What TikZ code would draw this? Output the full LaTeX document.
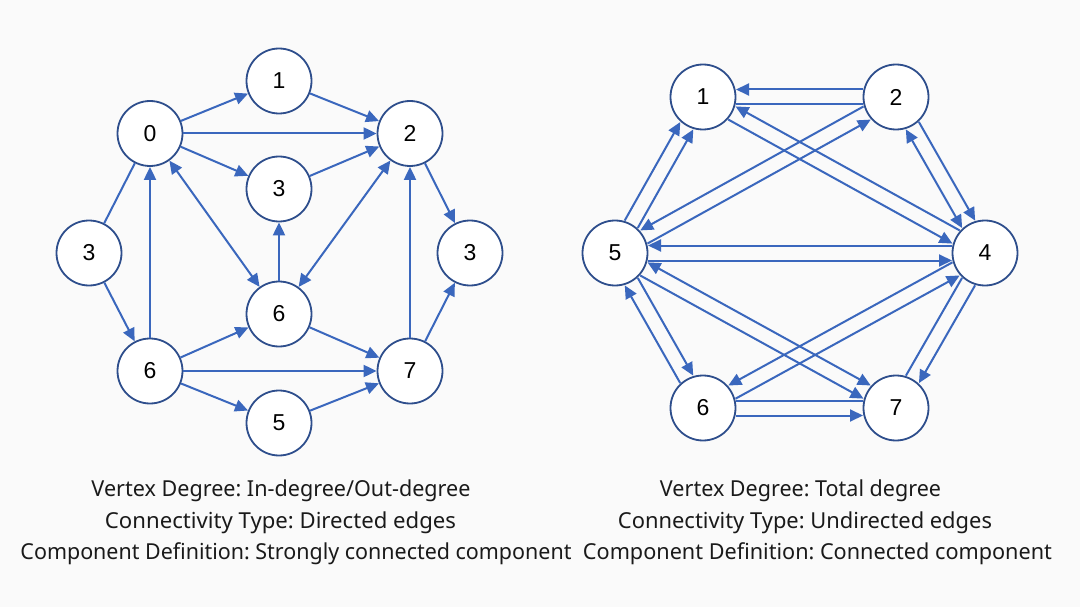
\documentclass[tikz,border=0pt]{standalone}
\usepackage{graphicx}
\usepackage{fontspec}
\setmainfont{Noto Sans}
\newfontfamily\numfont{Liberation Sans}
\usetikzlibrary{arrows.meta,calc}
\definecolor{edgeblue}{HTML}{3A67BD}
\definecolor{ringblue}{HTML}{2E4E8C}
\definecolor{bgcol}{HTML}{FAFAFA}
\definecolor{txtcol}{HTML}{1A1A1A}
\newcommand\sideL[3]{\draw[twin,#1] ($(#2)!7.5pt!90:(#3)$) -- ($(#3)!7.5pt!-90:(#2)$);}
\newcommand\sideR[3]{\draw[twin,#1] ($(#2)!7.5pt!-90:(#3)$) -- ($(#3)!7.5pt!90:(#2)$);}
\frenchspacing
\begin{document}
\begin{tikzpicture}[x=1pt,y=-1pt,
  vtx/.style={circle,draw=ringblue,line width=1.8pt,fill=white,minimum size=65pt,inner sep=0pt,font=\numfont\fontsize{23}{23}\selectfont},
  lnk/.style={draw=edgeblue,line width=2pt},
  twin/.style={lnk,shorten <=33pt,shorten >=33pt},
  >={Triangle[length=13pt,width=12pt]},
  captxt/.style={anchor=base,inner sep=0pt,font=\fontsize{22}{22}\selectfont,text=txtcol}]
\useasboundingbox (0,0) rectangle (1080,607);
\fill[bgcol] (0,0) rectangle (1080,607);

% ---------- left graph ----------
\node[vtx] (a0) at (150,133.5) {0};
\node[vtx] (a1) at (279,81) {1};
\node[vtx] (a2) at (410,133.5) {2};
\node[vtx] (a3m) at (279,189) {3};
\node[vtx] (a3l) at (89,253) {3};
\node[vtx] (a3r) at (470,253) {3};
\node[vtx] (a6m) at (279,314) {6};
\node[vtx] (a6l) at (150,371) {6};
\node[vtx] (a7) at (410,371) {7};
\node[vtx] (a5) at (279,423) {5};

\draw[lnk,->] (a0) -- (a1);
\draw[lnk,->] (a1) -- (a2);
\draw[lnk,->] (a0) -- (a2);
\draw[lnk,->] (a0) -- (a3m);
\draw[lnk,->] (a3m) -- (a2);
\draw[lnk] (a3l) -- (a0);
\draw[lnk,->] (a3l) -- (a6l);
\draw[lnk,->] (a6l) -- (a0);
\draw[lnk,<->] (a0) -- (a6m);
\draw[lnk,->] (a6m) -- (a3m);
\draw[lnk,<->] (a2) -- (a6m);
\draw[lnk,->] (a7) -- (a2);
\draw[lnk,->] (a2) -- (a3r);
\draw[lnk,->] (a7) -- (a3r);
\draw[lnk,->] (a6l) -- (a6m);
\draw[lnk,->] (a6l) -- (a7);
\draw[lnk,->] (a6l) -- (a5);
\draw[lnk,->] (a5) -- (a7);
\draw[lnk,->] (a6m) -- (a7);

% ---------- right graph ----------
\node[vtx] (b1) at (703,97) {1};
\node[vtx] (b2) at (896,97) {2};
\node[vtx] (b5) at (615,253) {5};
\node[vtx] (b4) at (985,253) {4};
\node[vtx] (b6) at (703,408) {6};
\node[vtx] (b7) at (896,408) {7};

\sideL{<-}{b1}{b2}
\sideR{}{b1}{b2}
\sideL{<-}{b5}{b4}
\sideR{->}{b5}{b4}
\sideL{}{b6}{b7}
\sideR{->}{b6}{b7}
\sideL{->}{b5}{b1}
\sideR{->}{b5}{b1}
\sideL{->}{b2}{b4}
\sideR{<->}{b2}{b4}
\sideL{<-}{b1}{b4}
\sideR{->}{b1}{b4}
\sideL{<-}{b5}{b2}
\sideR{->}{b5}{b2}
\sideL{->}{b5}{b6}
\sideR{<-}{b5}{b6}
\sideL{<->}{b5}{b7}
\sideR{->}{b5}{b7}
\sideL{<-}{b6}{b4}
\sideR{->}{b6}{b4}
\sideL{->}{b4}{b7}
\sideR{}{b4}{b7}

% ---------- captions ----------
\node[captxt] (l1) at (281,496.7) {\resizebox{379pt}{\height}{Vertex Degree: In-degree/Out-degree}};
\node[captxt] (l2) at (280.5,528.3) {\resizebox{351pt}{\height}{Connectivity Type: Directed edges}};
\node[captxt] (l3) at (296,559.3) {\resizebox{551pt}{\height}{Component Definition: Strongly connected component}};
\node[captxt] (r1) at (800.5,496.7) {\resizebox{281pt}{\height}{Vertex Degree: Total degree}};
\node[captxt] (r2) at (805,528.3) {\resizebox{374pt}{\height}{Connectivity Type: Undirected edges}};
\node[captxt] (r3) at (817.5,559.3) {\resizebox{469pt}{\height}{Component Definition: Connected component}};
\end{tikzpicture}
\end{document}
